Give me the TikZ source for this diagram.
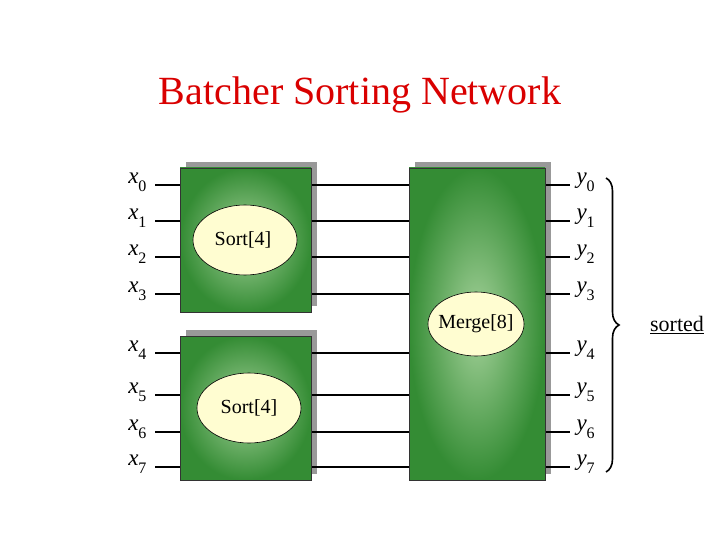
\documentclass[tikz,border=0pt]{standalone}
\usepackage{fontspec}
\setmainfont{Liberation Serif}
\usetikzlibrary{decorations.pathreplacing,shapes.geometric}
\definecolor{gout}{RGB}{52,140,52}
\definecolor{gin}{RGB}{165,210,155}
\begin{document}
\begin{tikzpicture}[x=1pt,y=-1pt,
  blk/.style={inner color=gin,outer color=gout},
  shd/.style={fill=gray!80},
  ell/.style={draw=black,fill=yellow!18,line width=0.6pt},
  wire/.style={line width=2pt},
  lab/.style={font=\fontsize{23}{25}\selectfont\itshape}]
\useasboundingbox (0,0) rectangle (720,540);
\node[text=red!85!black,font=\fontsize{40}{44}\selectfont] (title) at (360,95) {Batcher Sorting Network};
% shadows
\fill[shd] (186,162) rectangle (317,306);
\fill[shd] (186,330) rectangle (317,474);
\fill[shd] (415,162) rectangle (551,474);
% wires
\foreach \y [count=\i from 0] in {185,221,257,294,353,395,432,467}{
  \coordinate (a\i) at (155,\y); \coordinate (b\i) at (180,\y);
  \coordinate (c\i) at (311,\y); \coordinate (d\i) at (409,\y);
  \coordinate (e\i) at (545,\y); \coordinate (f\i) at (570,\y);
  \draw[wire] (a\i)--(b\i); \draw[wire] (c\i)--(d\i); \draw[wire] (e\i)--(f\i);
  \node[lab,anchor=east] (x\i) at (150,\y-3) {x\raisebox{-0.35em}{\upshape\fontsize{16}{17}\selectfont\i}};
  \node[lab,anchor=west] (y\i) at (573,\y-3) {y\raisebox{-0.35em}{\upshape\fontsize{16}{17}\selectfont\i}};
}
\fill[blk] (180,168) rectangle (311,312);
\fill[blk] (180,336) rectangle (311,480);
\fill[blk] (409,168) rectangle (545,480);
\draw[black!80,line width=0.8pt] (180,168) rectangle (311,312) (180,336) rectangle (311,480) (409,168) rectangle (545,480);
\node[ell,ellipse,minimum width=104,minimum height=70,inner sep=0] (s1) at (245,240) {};
\node[font=\fontsize{20}{22}\selectfont] (s1t) at (243,240) {Sort[4]};
\node[ell,ellipse,minimum width=104,minimum height=70,inner sep=0] (s2) at (249,408) {};
\node[font=\fontsize{20}{22}\selectfont] (s2t) at (249,408) {Sort[4]};
\node[ell,ellipse,minimum width=96,minimum height=64,inner sep=0] (m) at (476,324) {};
\node[font=\fontsize{20}{22}\selectfont] (mt) at (476,324) {Merge[8]};
\draw[line width=1.6pt,decorate,decoration={brace,amplitude=13pt}] (606,178) -- (606,472);
\node[font=\fontsize{22}{24}\selectfont] (sorted) at (677,325) {\underline{sorted}};
\end{tikzpicture}
\end{document}
